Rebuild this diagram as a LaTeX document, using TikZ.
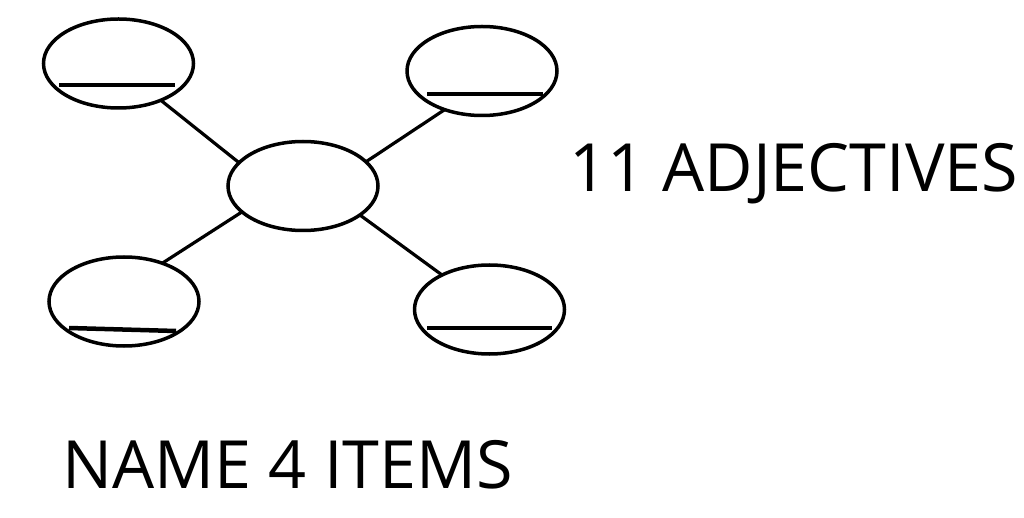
\documentclass[tikz,border=0pt]{standalone}
\usepackage{fontspec}
\setmainfont{Open Sans}
\usetikzlibrary{shapes.geometric}
\begin{document}
\begin{tikzpicture}[x=1pt,y=-1pt,
  bubble/.style={draw=black,line width=3.5pt,ellipse,minimum width=150pt,minimum height=89pt,inner sep=0pt,outer sep=0pt},
  link/.style={draw=black,line width=3.2pt},
  blank/.style={draw=black,line width=4.5pt},
  label/.style={anchor=base west,inner sep=0pt,font=\fontsize{66.5}{80}\selectfont}]
\useasboundingbox (0,0) rectangle (1024,518);
\node[bubble] (tl) at (118.5,63.5) {};
\node[bubble] (tr) at (482,71) {};
\node[bubble] (c) at (303,186) {};
\node[bubble] (bl) at (124,301.5) {};
\node[bubble] (br) at (489.5,309.5) {};
\coordinate (tlL) at (59,85); \coordinate (tlR) at (175,85);
\coordinate (trL) at (427,94); \coordinate (trR) at (543,94);
\coordinate (blL) at (69,328); \coordinate (blR) at (176,331);
\coordinate (brL) at (427,328); \coordinate (brR) at (552,328);
\draw[blank] (tlL) -- (tlR);
\draw[blank] (trL) -- (trR);
\draw[blank] (blL) -- (blR);
\draw[blank] (brL) -- (brR);
\draw[link] (tl.-41) -- (c.160);
\draw[link] (tr.226) -- (c.21);
\draw[link] (bl.45) -- (c.203);
\draw[link] (br.144) -- (c.-27);
\node[label] (adj) at (569,192) {11 ADJECTIVES};
\node[label] (items) at (62,488) {NAME 4 ITEMS};
\end{tikzpicture}
\end{document}
